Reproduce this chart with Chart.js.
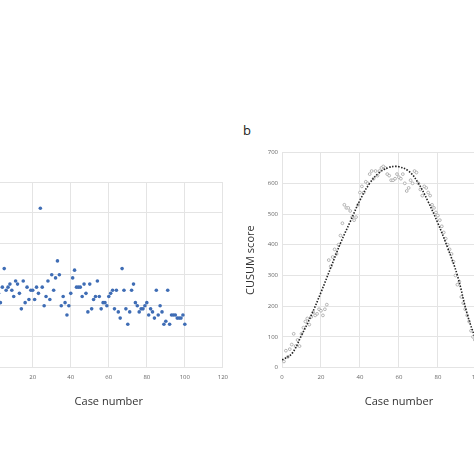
<!DOCTYPE html><html><head><meta charset="utf-8">
<script src="https://cdn.jsdelivr.net/npm/chart.js@4"></script>
<style>body{margin:0;width:474px;height:474px;overflow:hidden;background:#fff;position:relative;font-family:"Open Sans",sans-serif}
.c{position:absolute}</style></head><body>
<div class="c" style="left:-13px;top:176px;width:247px;height:236px"><canvas id="a"></canvas></div>
<div class="c" style="left:240px;top:145px;width:287px;height:267px"><canvas id="b"></canvas></div>
<div class="c" style="left:243px;top:121px;font-size:13px;color:#222">b</div>
<script>
const caseNumbers=Array.from({length:100},(_,i)=>i+1);
const xTicks=[0,20,40,60,80,100,120];
const leftValues=[2.7,2.4,2.1,2.6,3.2,2.5,2.6,2.7,2.5,2.3,2.8,2.7,2.4,1.9,2.8,2.1,2.6,2.2,2.5,2.5,2.2,2.6,2.4,5.15,2.6,2.0,2.3,2.8,2.2,3.0,2.5,2.9,3.45,3.0,2.0,2.3,2.1,1.7,2.0,2.4,2.9,3.15,2.6,2.6,2.6,2.3,2.7,2.4,1.8,2.7,1.9,2.2,2.3,2.8,2.3,1.9,2.1,2.1,2.0,2.3,2.4,2.5,1.9,2.5,1.8,1.6,3.2,2.5,1.9,1.4,1.8,2.5,2.7,2.1,2.0,1.8,1.9,1.9,2.0,2.1,1.7,1.9,1.8,1.6,2.5,1.7,2.0,1.8,1.4,1.5,2.5,1.4,1.7,1.7,1.7,1.6,1.6,1.6,1.7,1.4];
const cusumPoints=[20,55,35,60,75,110,70,90,70,110,130,150,160,140,165,180,170,175,190,185,170,190,205,350,330,360,385,370,400,430,470,530,520,520,510,490,480,490,530,570,590,570,605,600,630,640,615,640,625,640,650,655,650,630,625,610,610,615,630,620,615,630,600,575,585,610,600,640,635,600,580,560,590,585,570,560,530,520,505,495,480,460,440,420,400,385,370,345,300,270,280,230,210,190,170,150,120,100,90,80];
const fitX=[0,5,10,15,20,25,30,35,40,45,50,55,58,60,65,70,75,80,85,90,95,100];
const fitY=[25,45,105,170,245,325,405,475,545,600,635,652,655,654,640,600,540,470,390,300,175,80];
const tickFont={size:6,family:"Open Sans"};
const grid={color:'#e4e4e4',drawTicks:false};
new Chart(document.getElementById('a'),{type:'scatter',
data:{datasets:[{data:caseNumbers.map((x,i)=>({x,y:leftValues[i]})),backgroundColor:'#3f6db5',pointRadius:1.8,borderWidth:0}]},
options:{responsive:true,maintainAspectRatio:false,animation:false,layout:{padding:{top:6,right:10}},
plugins:{legend:{display:false},tooltip:{enabled:false}},
scales:{x:{min:0,max:120,afterBuildTicks:s=>{s.ticks=xTicks.map(v=>({value:v}))},grid,border:{display:false},ticks:{font:tickFont,color:'#666',padding:6},
title:{display:true,text:'Case number',font:{size:11,family:"Open Sans"},color:'#333',padding:{top:8}}},
y:{min:0,max:6,ticks:{display:false,stepSize:1},grid,border:{display:false}}}}});
new Chart(document.getElementById('b'),{type:'scatter',
data:{datasets:[{type:'line',data:fitX.map((x,i)=>({x,y:fitY[i]})),borderColor:'#222',borderWidth:1.6,borderDash:[1.5,1.5],pointRadius:0,tension:0.4,fill:false},
{data:caseNumbers.map((x,i)=>({x,y:cusumPoints[i]})),backgroundColor:'#fff',borderColor:'#999',borderWidth:0.7,pointRadius:1.4}]},
options:{responsive:true,maintainAspectRatio:false,animation:false,layout:{padding:{top:6,right:0}},
plugins:{legend:{display:false},tooltip:{enabled:false}},
scales:{x:{min:0,max:120,afterBuildTicks:s=>{s.ticks=xTicks.map(v=>({value:v}))},grid,border:{display:false},ticks:{font:tickFont,color:'#666',padding:6},
title:{display:true,text:'Case number',font:{size:11,family:"Open Sans"},color:'#333',padding:{top:8}}},
y:{min:0,max:700,ticks:{stepSize:100,font:tickFont,color:'#666',padding:4},grid,border:{display:false},
title:{display:true,text:'CUSUM score',font:{size:11,family:"Open Sans"},color:'#333'},afterFit:s=>{s.width=42}}}}});
</script></body></html>
